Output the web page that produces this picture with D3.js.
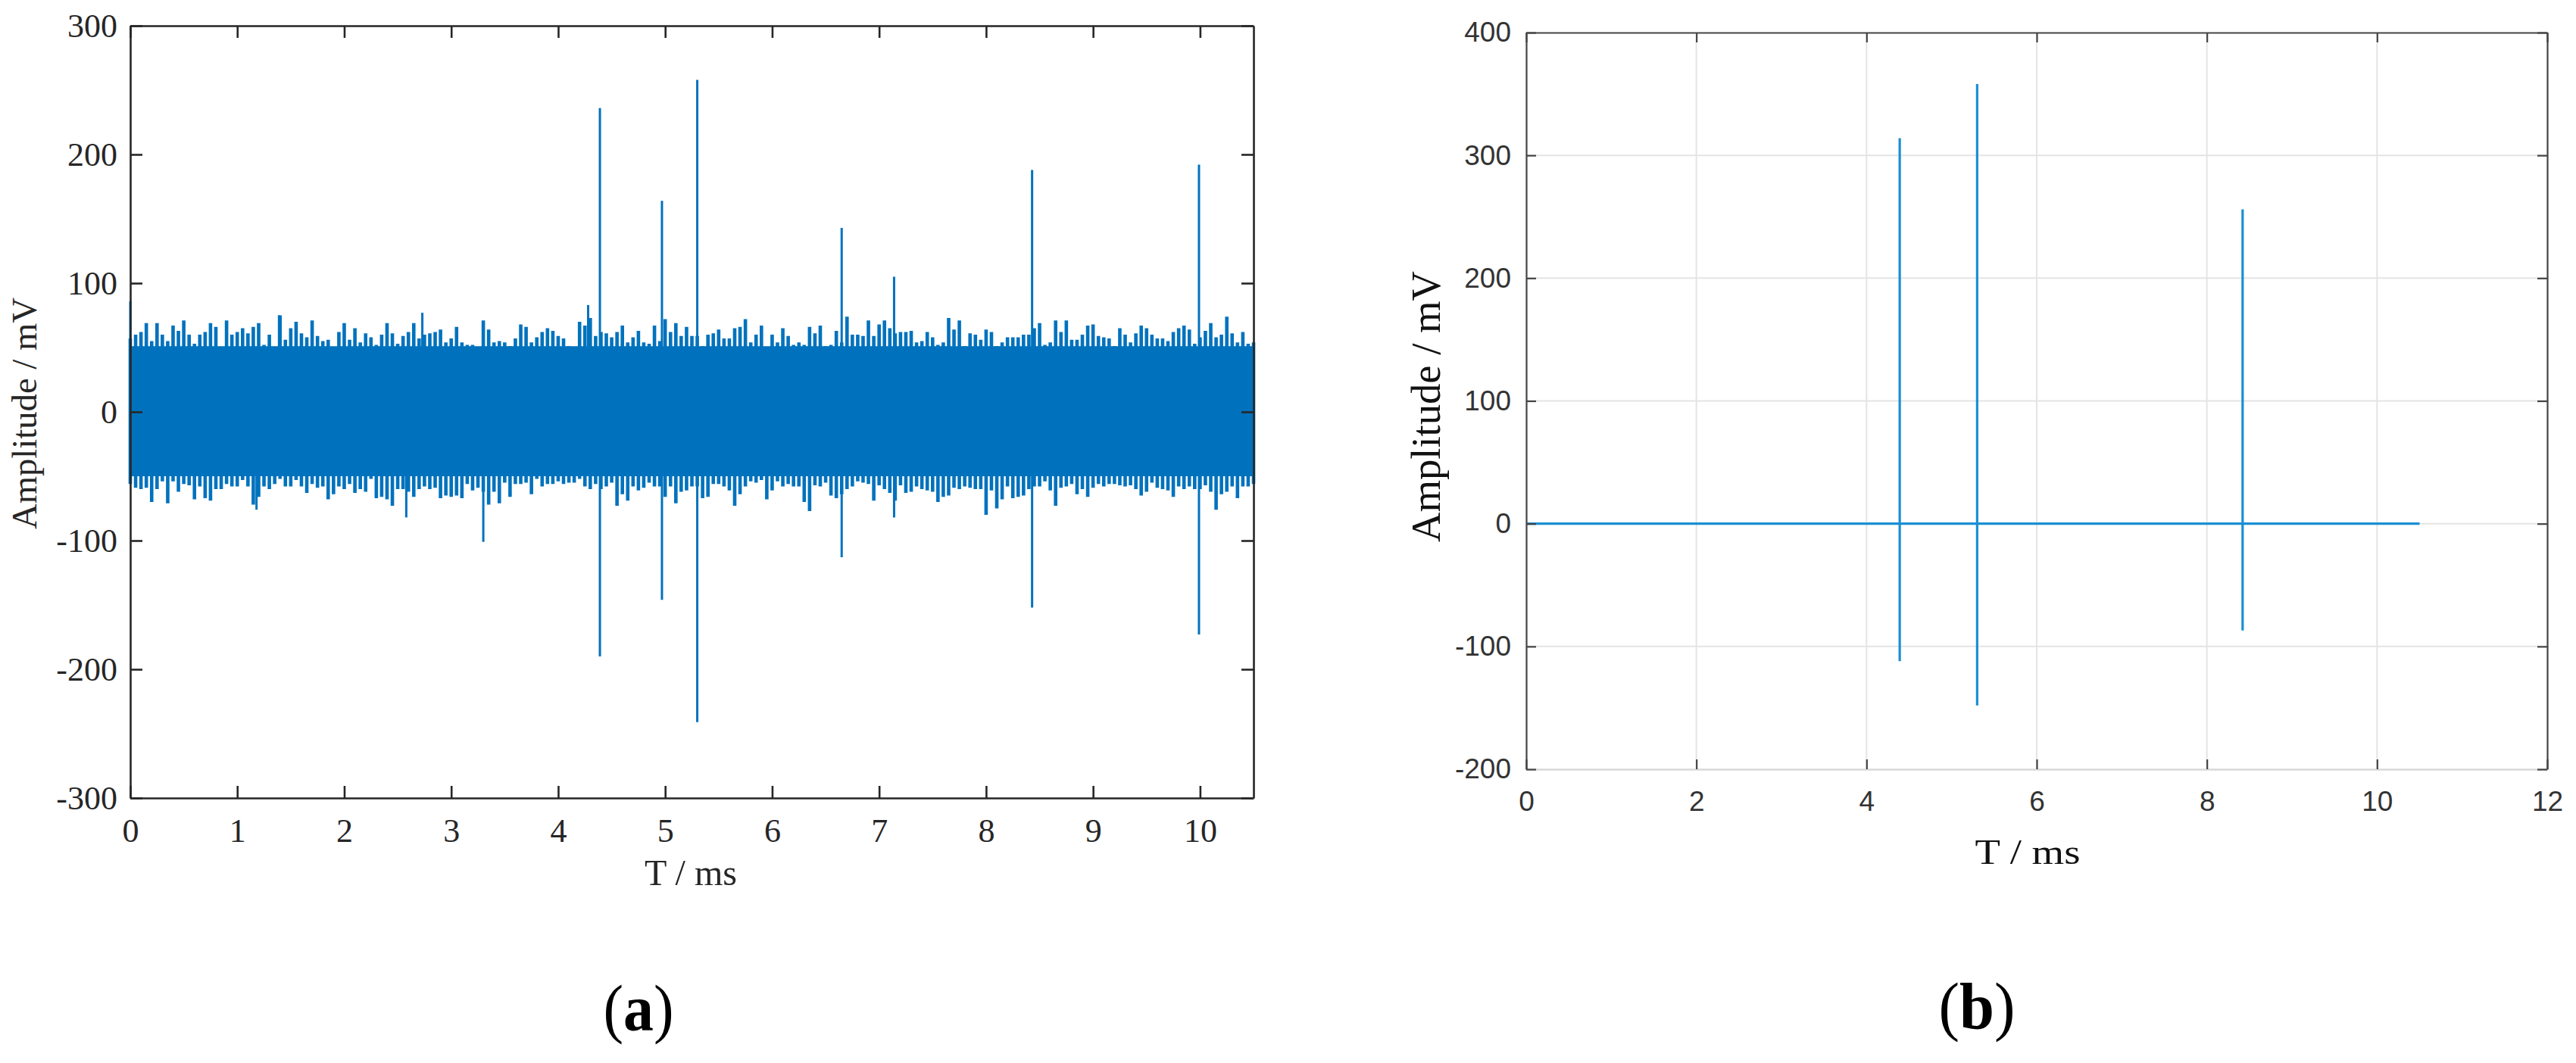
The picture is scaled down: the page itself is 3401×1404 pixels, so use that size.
<!DOCTYPE html>
<html><head><meta charset="utf-8">
<script src="https://cdn.jsdelivr.net/npm/d3@7"></script>
<style>body{margin:0;background:#fff} svg{display:block}</style>
</head><body>
<svg id="chart" width="3401" height="1404"></svg>
<script>
// ---------- DATA: panel (a) ----------
const noiseStep = 0.05; // ms between envelope readings
const noiseTop = [
57,60,62,69,55,69,60,55,67,63,71,60,53,60,62,69,66,49,71,60,
62,65,61,66,69,52,60,45,75,56,65,70,61,58,71,59,55,56,48,62,
69,56,65,54,61,58,52,60,69,61,53,59,62,69,57,60,61,62,64,54,
57,66,54,52,52,48,71,64,54,55,54,51,57,68,66,54,58,62,65,63,
59,57,51,48,70,67,73,59,62,61,58,62,67,54,58,63,54,53,67,55,
72,62,69,59,66,59,
59,51,60,61,64,57,57,65,66,72,54,60,67,49,
60,54,65,59,52,54,52,66,61,67,51,52,63,54,74,60,60,59,71,59,
68,71,65,61,62,62,63,54,55,62,58,52,54,73,64,71,51,61,60,56,
64,62,51,54,58,58,58,60,60,65,69,52,54,71,62,71,56,56,60,67,
68,59,58,57,51,65,60,54,61,67,65,60,57,57,55,62,65,67,64,53,
58,63,69,58,60,74,61,54,62,53,54
];
const noiseBottom = [
-56,-59,-60,-59,-70,-60,-54,-71,-54,-62,-56,-57,-68,-58,-67,-69,-60,-60,-56,-58,
-58,-53,-58,-72,-66,-58,-60,-56,-52,-58,-58,-53,-58,-63,-56,-59,-58,-68,-64,-58,
-60,-56,-63,-60,-62,-52,-67,-66,-68,-73,-60,-60,-62,-66,-60,-58,-60,-59,-67,-65,
-66,-65,-67,-56,-61,-59,-62,-72,-62,-71,-55,-66,-56,-56,-55,-64,-52,-58,-56,-56,
-54,-56,-55,-55,-52,-58,-60,-56,-60,-58,-55,-73,-64,-69,-58,-61,-59,-55,-58,-58,
-66,-58,-71,-62,-61,-58,
-58,-67,-66,-56,-56,-58,-61,-73,-64,-58,-54,-55,-53,-68,
-61,-54,-58,-56,-58,-58,-70,-77,-57,-58,-55,-65,-67,-64,-60,-58,-54,-55,-56,-69,
-57,-60,-63,-69,-57,-63,-62,-58,-60,-61,-62,-70,-66,-65,-59,-60,-58,-59,-60,-60,
-80,-61,-75,-68,-58,-67,-66,-65,-60,-58,-58,-54,-61,-73,-59,-58,-56,-64,-60,-66,
-59,-56,-58,-56,-56,-57,-58,-57,-60,-65,-62,-55,-59,-60,-61,-66,-58,-60,-58,-60,
-60,-57,-62,-76,-64,-62,-58,-67,-58,-58,-56
];
const coreTimes = [0, 10.5];
const coreUpper = [51, 51];
const coreLower = [-50, -50];
const spikeTimesA = [0.00, 1.18, 1.39, 2.58, 2.73, 3.30, 4.28, 4.39, 4.97, 5.30, 6.65, 7.14, 8.43, 9.99];
const spikeHighA  = [86,   0,    75,   0,    77,   0,    83,   236,  164,  258,  143,  105,  188,  192];
const spikeLowA   = [0,   -76,   0,   -82,   0,  -101,   0,  -190, -146, -241, -113,  -82, -152, -173];
const xTicksA = [0,1,2,3,4,5,6,7,8,9,10];
const yTicksA = [-300,-200,-100,0,100,200,300];

// ---------- DATA: panel (b) ----------
const spikeTimesB = [4.39, 5.30, 8.42];
const spikeHighB  = [314, 358, 256];
const spikeLowB   = [-112, -148, -87];
const baseTimesB  = [0, 10.5];
const baseValuesB = [0, 0];
const xTicksB = [0,2,4,6,8,10,12];
const yTicksB = [-200,-100,0,100,200,300,400];

// ---------- DRAW ----------
const svg = d3.select("#chart");
const blueA = "#0072BD", blueB = "#1b8fd2", axisCol = "#262626";
const serif = "'Liberation Serif','Times New Roman',serif";
const sans = "'Liberation Sans',Arial,sans-serif";
const fmt = d => String(d);

// Panel (a)
const A = {l:172, r:1655, t:34, b:1054};
const xA = d3.scaleLinear().domain([0,10.5]).range([A.l, A.r]);
const yA = d3.scaleLinear().domain([-300,300]).range([A.b, A.t]);
const gA = svg.append("g");

const coreData = coreTimes.map((t,i)=>({t, hi:coreUpper[i], lo:coreLower[i]}));
gA.append("path").datum(coreData)
  .attr("d", d3.area().x(d=>xA(d.t)).y0(d=>yA(d.lo)).y1(d=>yA(d.hi)))
  .attr("fill", blueA);
const bins = noiseTop.map((v,i)=>({t:i*noiseStep, hi:v, lo:noiseBottom[i]}));
gA.append("g").selectAll("line").data(bins).join("line")
  .attr("x1", d=>xA(d.t)).attr("x2", d=>xA(d.t))
  .attr("y1", d=>yA(d.lo)).attr("y2", d=>yA(d.hi))
  .attr("stroke", blueA).attr("stroke-width", 4.6);
const spikesA = spikeTimesA.map((t,i)=>({t, hi:spikeHighA[i], lo:spikeLowA[i]}));
gA.append("g").selectAll("line").data(spikesA).join("line")
  .attr("x1", d=>xA(d.t)).attr("x2", d=>xA(d.t))
  .attr("y1", d=>yA(d.lo)).attr("y2", d=>yA(d.hi))
  .attr("stroke", blueA).attr("stroke-width", 3);

function styleAxis(g, col, w){
  g.selectAll(".domain").attr("stroke", col).attr("stroke-width", w);
  g.selectAll(".tick line").attr("stroke", col).attr("stroke-width", w);
}
const axA = [
  gA.append("g").attr("transform",`translate(0,${A.b})`)
    .call(d3.axisBottom(xA).tickValues(xTicksA).tickSize(-16).tickSizeOuter(0).tickPadding(27).tickFormat(fmt)),
  gA.append("g").attr("transform",`translate(0,${A.t})`)
    .call(d3.axisTop(xA).tickValues(xTicksA).tickSize(-16).tickSizeOuter(0).tickFormat("")),
  gA.append("g").attr("transform",`translate(${A.l},0)`)
    .call(d3.axisLeft(yA).tickValues(yTicksA).tickSize(-16).tickSizeOuter(0).tickPadding(17).tickFormat(fmt)),
  gA.append("g").attr("transform",`translate(${A.r},0)`)
    .call(d3.axisRight(yA).tickValues(yTicksA).tickSize(-16).tickSizeOuter(0).tickFormat(""))
];
axA.forEach(g=>{
  styleAxis(g, axisCol, 2.6);
  g.selectAll("text").attr("font-family", serif).attr("font-size", 44).attr("fill", axisCol);
});
gA.append("text").attr("x", 912).attr("y", 1169).attr("text-anchor","middle")
  .attr("font-family", serif).attr("font-size", 48).attr("fill", axisCol)
  .attr("textLength", 122).attr("lengthAdjust","spacingAndGlyphs").text("T / ms");
gA.append("text").attr("transform","translate(48,546) rotate(-90)").attr("text-anchor","middle")
  .attr("font-family", serif).attr("font-size", 47).attr("fill", axisCol)
  .attr("textLength", 306).attr("lengthAdjust","spacingAndGlyphs").text("Amplitude / mV");
const capA = gA.append("text").attr("x", 843).attr("y", 1361).attr("text-anchor","middle")
  .attr("font-family", serif).attr("font-size", 86).attr("fill", "#000")
  .attr("textLength", 93).attr("lengthAdjust","spacingAndGlyphs");
capA.append("tspan").text("(");
capA.append("tspan").attr("font-weight","bold").text("a");
capA.append("tspan").text(")");

// Panel (b)
const B = {l:2015, r:3363, t:43, b:1016};
const xB = d3.scaleLinear().domain([0,12]).range([B.l, B.r]);
const yB = d3.scaleLinear().domain([-200,400]).range([B.b, B.t]);
const gB = svg.append("g");
gB.append("g").selectAll("line").data(xTicksB.filter(v=>v>0 && v<12)).join("line")
  .attr("x1", d=>xB(d)).attr("x2", d=>xB(d)).attr("y1", B.t).attr("y2", B.b)
  .attr("stroke", "#e4e4e4").attr("stroke-width", 2);
gB.append("g").selectAll("line").data(yTicksB.filter(v=>v>-200 && v<400)).join("line")
  .attr("y1", d=>yB(d)).attr("y2", d=>yB(d)).attr("x1", B.l).attr("x2", B.r)
  .attr("stroke", "#e4e4e4").attr("stroke-width", 2);
const baseB = baseTimesB.map((t,i)=>({t, v:baseValuesB[i]}));
gB.append("path").datum(baseB)
  .attr("d", d3.line().x(d=>xB(d.t)).y(d=>yB(d.v)))
  .attr("fill","none").attr("stroke", blueB).attr("stroke-width", 3.2);
const spikesB = spikeTimesB.map((t,i)=>({t, hi:spikeHighB[i], lo:spikeLowB[i]}));
gB.append("g").selectAll("line").data(spikesB).join("line")
  .attr("x1", d=>xB(d.t)).attr("x2", d=>xB(d.t))
  .attr("y1", d=>yB(d.lo)).attr("y2", d=>yB(d.hi))
  .attr("stroke", blueB).attr("stroke-width", 3.2);
const bCol = "#444";
const axB = [
  gB.append("g").attr("transform",`translate(0,${B.b})`)
    .call(d3.axisBottom(xB).tickValues(xTicksB).tickSize(-13).tickSizeOuter(0).tickPadding(29).tickFormat(fmt)),
  gB.append("g").attr("transform",`translate(0,${B.t})`)
    .call(d3.axisTop(xB).tickValues(xTicksB).tickSize(-13).tickSizeOuter(0).tickFormat("")),
  gB.append("g").attr("transform",`translate(${B.l},0)`)
    .call(d3.axisLeft(yB).tickValues(yTicksB).tickSize(-13).tickSizeOuter(0).tickPadding(20).tickFormat(fmt)),
  gB.append("g").attr("transform",`translate(${B.r},0)`)
    .call(d3.axisRight(yB).tickValues(yTicksB).tickSize(-13).tickSizeOuter(0).tickFormat(""))
];
axB.forEach(g=>{
  styleAxis(g, bCol, 2.2);
  g.selectAll("text").attr("font-family", sans).attr("font-size", 37).attr("fill", "#333");
});
axB[0].select(".domain").attr("stroke","#d8d8d8").attr("stroke-width",2.5);
gB.append("text").attr("x", 2677).attr("y", 1141).attr("text-anchor","middle")
  .attr("font-family", serif).attr("font-size", 46).attr("fill", "#111")
  .attr("textLength", 139).attr("lengthAdjust","spacingAndGlyphs").text("T / ms");
gB.append("text").attr("transform","translate(1901,537) rotate(-90)").attr("text-anchor","middle")
  .attr("font-family", serif).attr("font-size", 54).attr("fill", "#111")
  .attr("textLength", 358).attr("lengthAdjust","spacingAndGlyphs").text("Amplitude / mV");
const capB = gB.append("text").attr("x", 2610).attr("y", 1358).attr("text-anchor","middle")
  .attr("font-family", serif).attr("font-size", 86).attr("fill", "#000")
  .attr("textLength", 101).attr("lengthAdjust","spacingAndGlyphs");
capB.append("tspan").text("(");
capB.append("tspan").attr("font-weight","bold").text("b");
capB.append("tspan").text(")");
</script>
</body></html>
